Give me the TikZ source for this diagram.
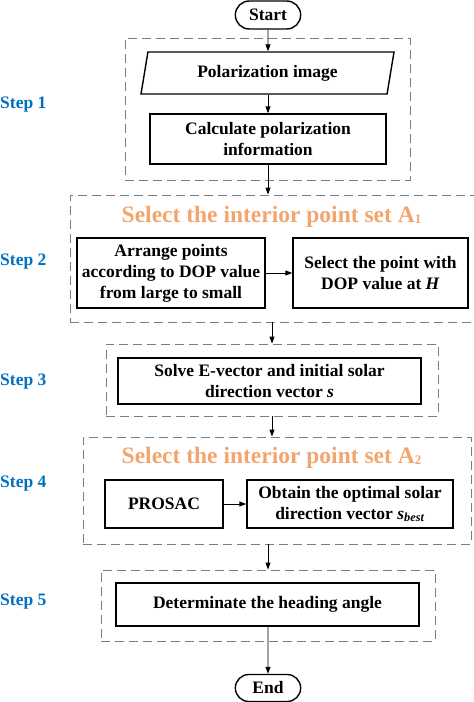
\documentclass[tikz,border=0pt]{standalone}
\usepackage{fontspec}
\setmainfont{Liberation Serif}
\usepackage{tikz}
\usetikzlibrary{shapes.geometric, shapes.misc, arrows.meta, positioning}
\definecolor{stepblue}{RGB}{0,112,192}
\definecolor{setorange}{RGB}{242,165,110}
\definecolor{framegray}{RGB}{125,125,125}
\newcommand{\setidx}[1]{\raisebox{-0.5pt}{\fontsize{13}{13}\selectfont #1}}
\tikzset{
  proc/.style={draw, line width=1.4pt, font=\fontsize{17.5}{21}\selectfont\bfseries,
    align=center, inner sep=2pt},
  term/.style={draw, line width=1.4pt, rounded rectangle, minimum width=72pt,
    minimum height=28pt, font=\fontsize{17.5}{21}\selectfont\bfseries},
  io/.style={draw, line width=1.4pt, trapezium, trapezium left angle=73,
    trapezium right angle=107, trapezium stretches body, font=\fontsize{17.5}{21}\selectfont\bfseries},
  stepframe/.style={draw=framegray, line width=0.9pt, dash pattern=on 9pt off 5pt, inner sep=0pt},
  steplbl/.style={font=\fontsize{17.5}{21}\selectfont\bfseries, text=stepblue, anchor=west, inner sep=0pt},
  settitle/.style={font=\fontsize{23.5}{28}\selectfont\bfseries, text=setorange},
  flow/.style={-{Triangle[length=7pt,width=5pt]}, line width=0.9pt},
}

\begin{document}
\begin{tikzpicture}[x=1pt, y=-1pt]
      \useasboundingbox (0,0) rectangle (474,702);
      % dashed step frames
      \node[stepframe, minimum width=285pt, minimum height=142pt] (f1) at (267.5,109) {};
      \node[stepframe, minimum width=407pt, minimum height=127pt] (f2) at (273.5,258.5) {};
      \node[stepframe, minimum width=332pt, minimum height=72pt] (f3) at (272,380) {};
      \node[stepframe, minimum width=388pt, minimum height=107pt] (f4) at (277,490.5) {};
      \node[stepframe, minimum width=334pt, minimum height=71pt] (f5) at (268,605.5) {};
      % step labels
      \node[steplbl] (s1) at (0,105) {Step 1};
      \node[steplbl] (s2) at (0,262) {Step 2};
      \node[steplbl] (s3) at (0,382) {Step 3};
      \node[steplbl] (s4) at (0,484) {Step 4};
      \node[steplbl] (s5) at (0,602) {Step 5};
      % flow nodes
      \node[term] (start) at (268,15) {Start};
      \node[io, minimum width=253pt, minimum height=42pt] (img) at (267.5,73) {Polarization image};
      \node[proc, minimum width=236pt, minimum height=50pt] (calc) at (268,139)
        {Calculate polarization\\information};
      \node[settitle] (t1) at (271.5,217) {Select the interior point set A\setidx{1}};
      \node[proc, minimum width=188pt, minimum height=70pt] (sort) at (171,273)
        {Arrange points\\according to DOP value\\from large to small};
      \node[proc, minimum width=175pt, minimum height=70pt] (pick) at (380.5,273)
        {Select the point with\\DOP value at \textit{H}};
      \node[proc, minimum width=303pt, minimum height=46pt] (solve) at (269.5,381)
        {Solve E-vector and initial solar\\direction vector \textit{s}};
      \node[settitle] (t2) at (271.5,458) {Select the interior point set A\setidx{2}};
      \node[proc, minimum width=118pt, minimum height=48pt] (prosac) at (164,504) {PROSAC};
      \node[proc, minimum width=206pt, minimum height=48pt] (best) at (350,504)
        {Obtain the optimal solar\\direction vector \textit{s}\textsubscript{\textit{best}}};
      \node[proc, minimum width=303pt, minimum height=43pt] (head) at (267.5,604.5)
        {Determinate the heading angle};
      \node[term, minimum height=27pt] (end) at (268,688) {End};
      % connectors
      \draw[flow] (start) -- (start |- img.north);
      \draw[flow] (start |- img.south) -- (start |- calc.north);
      \draw[flow] (start |- calc.south) -- (start |- f2.north);
      \draw[flow] (sort) -- (pick);
      \draw[flow] (f3.north |- f2.south) -- (f3.north);
      \draw[flow] (f3.south) -- (f3.south |- f4.north);
      \draw[flow] (prosac) -- (best);
      \draw[flow] (f5.north |- f4.south) -- (f5.north);
      \draw[flow] (end |- head.south) -- (end);
    \end{tikzpicture}
\end{document}
